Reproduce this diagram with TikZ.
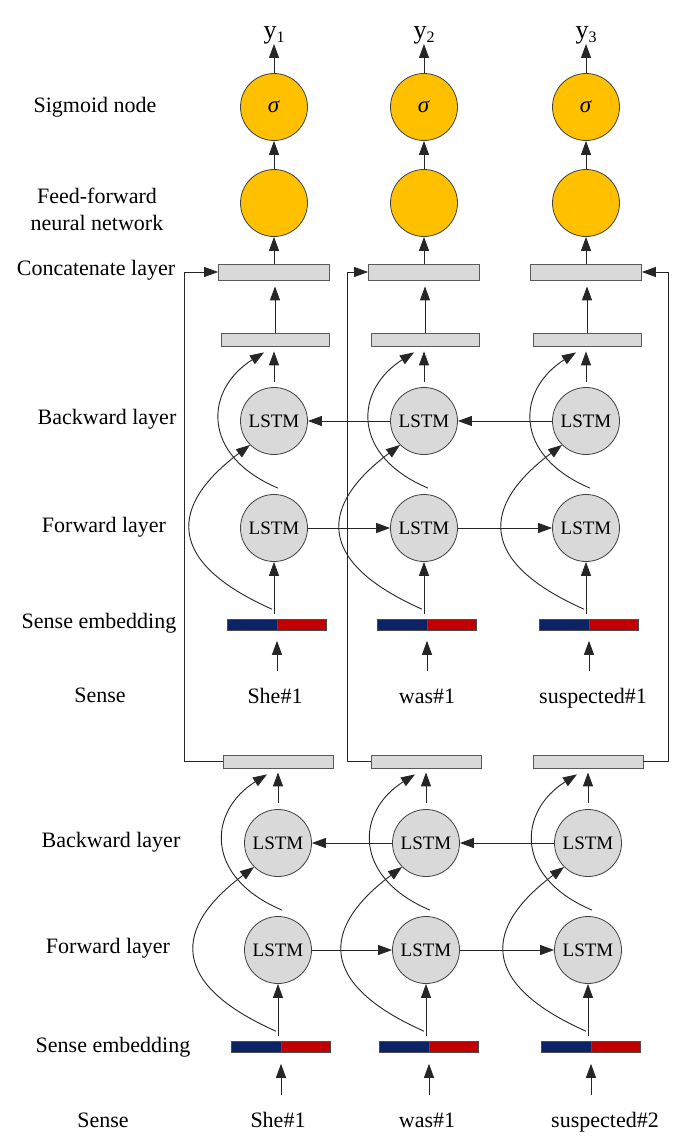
\documentclass[tikz,border=0pt]{standalone}
\usepackage{fontspec}
\setmainfont{Liberation Serif}
\usetikzlibrary{arrows.meta,calc}
\definecolor{goldfill}{HTML}{FFC000}
\definecolor{lgray}{HTML}{D9D9D9}
\definecolor{navyblue}{HTML}{0C2466}
\definecolor{darkred}{HTML}{C00000}
\begin{document}
\begin{tikzpicture}[x=1pt,y=-1pt,
  every node/.style={font=\fontsize{22}{27}\selectfont},
  arr/.style={draw=black!85, line width=0.9pt, -{Triangle[length=14pt,width=10pt]}},
  lstm/.style={circle, draw=black!75, fill=lgray, minimum size=67pt, inner sep=0pt, line width=0.8pt, font=\fontsize{19}{19}\selectfont},
  goldnode/.style={circle, draw=black!75, fill=goldfill, minimum size=67pt, inner sep=0pt, line width=0.8pt},
  barbox/.style={rectangle, draw=black!65, fill=lgray, minimum height=13pt, minimum width=108pt, inner sep=0pt, line width=0.8pt},
  concatbox/.style={barbox, minimum height=16pt, minimum width=111pt},
  embbox/.style={rectangle, draw=black!70, minimum width=99pt, minimum height=11pt, inner sep=0pt, line width=0.6pt,
    path picture={
      \fill[navyblue] (path picture bounding box.south west) rectangle (path picture bounding box.north);
      \fill[darkred] (path picture bounding box.south) rectangle (path picture bounding box.north east);
      \draw[black!70, line width=0.6pt] (path picture bounding box.south) -- (path picture bounding box.north);}},
  txt/.style={inner sep=0pt, text height=16pt, text depth=5pt},
  ylab/.style={inner sep=0pt, anchor=south, font=\fontsize{26}{26}\selectfont}
]
\fill[white] (0,0) rectangle (676,1148);
\useasboundingbox (0,0) rectangle (676,1148);

% left labels
\node[txt] (lsig) at (95,107) {Sigmoid node};
\node[inner sep=0pt, align=center] (lff) at (97,209) {Feed-forward\\neural network};
\node[txt] (lcc) at (96,270) {Concatenate layer};
\node[txt] (lbwa) at (107,419) {Backward layer};
\node[txt] (lfwa) at (104,527) {Forward layer};
\node[txt] (lema) at (99,623) {Sense embedding};
\node[txt] (lsea) at (100,697) {Sense};
\node[txt] (lbwb) at (111,842) {Backward layer};
\node[txt] (lfwb) at (108,948) {Forward layer};
\node[txt] (lemb) at (113,1047) {Sense embedding};
\node[txt] (lseb) at (103,1122) {Sense};

% words
\node[txt] (tw1) at (275,697.5) {She\#1};
\node[txt] (tw2) at (427,697.5) {was\#1};
\node[txt] (tw3) at (593,697.5) {suspected\#1};
\node[txt] (lw1) at (278,1121.5) {She\#1};
\node[txt] (lw2) at (427,1121.5) {was\#1};
\node[txt] (lw3) at (605,1121.5) {suspected\#2};

\foreach \i/\x/\lx in {1/274/278, 2/424/426, 3/586/588}{
  % upper network
  \node[ylab] (y\i) at (\x,44) {y\raisebox{-4pt}{\fontsize{16}{16}\selectfont \i}};
  \node[goldnode] (sig\i) at (\x,107) {\fontsize{23}{23}\selectfont\textit{σ}};
  \node[goldnode] (ff\i) at (\x,203) {};
  \node[concatbox] (cc\i) at (\x,272) {};
  \node[barbox] (tb\i) at (\x+1,339.5) {};
  \node[lstm] (tbw\i) at (\x,421) {LSTM};
  \node[lstm] (tfw\i) at (\x,528) {LSTM};
  \node[embbox] (te\i) at (\x+3,625) {};
  % lower network
  \node[barbox, minimum width=110pt] (lb\i) at (\lx,761.5) {};
  \node[lstm] (lbw\i) at (\lx,843) {LSTM};
  \node[lstm] (lfw\i) at (\lx,950) {LSTM};
  \node[embbox] (le\i) at (\lx+3,1047) {};

  % upper connectors
  \draw[arr] (sig\i.north) -- (y\i.south);
  \draw[arr] (ff\i.north) -- (sig\i.south);
  \draw[arr] (cc\i.north) -- (ff\i.south);
  \draw[arr, shorten >=6pt] (tb\i.north) -- (tb\i.north |- cc\i.south);
  \draw[arr, shorten <=5pt, shorten >=5pt] (tbw\i.north) -- (tbw\i.north |- tb\i.south);
  \draw[arr, shorten <=5pt] (tfw\i.south |- te\i.north) -- (tfw\i.south);
  \draw[arr, shorten <=16pt, shorten >=10pt] (te\i.south |- tw\i.north) -- (te\i.south);
  \draw[arr] ($(te\i.north)+(-5,-10)$) .. controls +(-108,-48) and +(-80,60) .. (tbw\i.south west);
  \draw[arr] ($(tfw\i.north)+(4,-6)$) .. controls +(-78,-33) and +(-59,37) .. ($(tb\i.south)+(-11,6)$);

  % lower connectors
  \draw[arr, shorten <=6pt, shorten >=4pt] (lbw\i.north) -- (lbw\i.north |- lb\i.south);
  \draw[arr, shorten <=5pt] (lfw\i.south |- le\i.north) -- (lfw\i.south);
  \draw[arr, shorten <=16pt, shorten >=11pt] (le\i.south |- lw\i.north) -- (le\i.south);
  \draw[arr] ($(le\i.north)+(-5,-10)$) .. controls +(-108,-48) and +(-80,60) .. (lbw\i.south west);
  \draw[arr] ($(lfw\i.north)+(4,-6)$) .. controls +(-78,-33) and +(-59,37) .. ($(lb\i.south)+(-11,6)$);
}

% recurrent connections
\draw[arr] (tbw3.west) -- (tbw2.east);
\draw[arr] (tbw2.west) -- (tbw1.east);
\draw[arr] (tfw1.east) -- (tfw2.west);
\draw[arr] (tfw2.east) -- (tfw3.west);
\draw[arr] (lbw3.west) -- (lbw2.east);
\draw[arr] (lbw2.west) -- (lbw1.east);
\draw[arr] (lfw1.east) -- (lfw2.west);
\draw[arr] (lfw2.east) -- (lfw3.west);

% skip connections from lower concatenation to upper concatenation
\draw[arr] (lb1.west) -- ++(-38,0) |- (cc1.west);
\draw[arr] (lb2.west) -- ++(-23,0) |- (cc2.west);
\draw[arr] (lb3.east) -- ++(25,0) |- (cc3.east);
\end{tikzpicture}
\end{document}
